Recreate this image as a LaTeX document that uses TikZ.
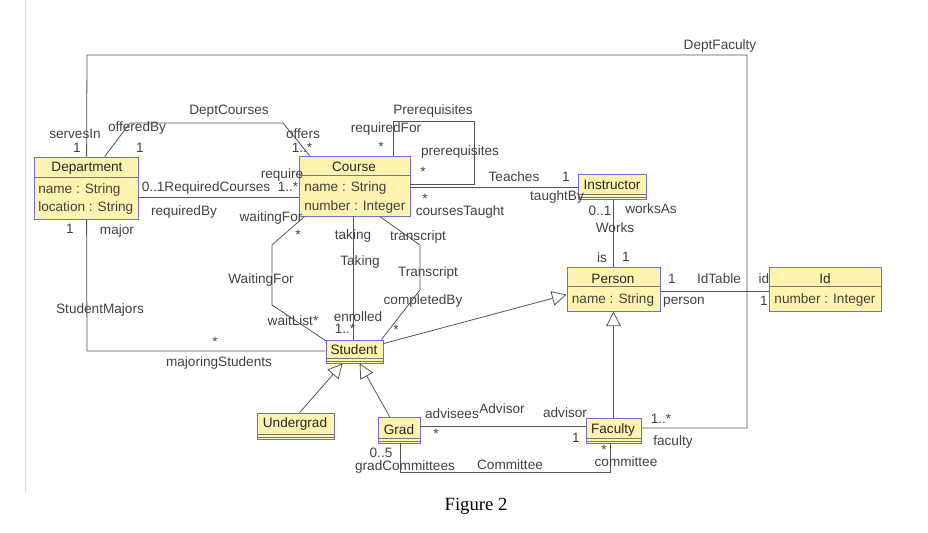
\documentclass[tikz,border=0pt]{standalone}
\usepackage{fontspec}
\setmainfont{Liberation Sans}
\usetikzlibrary{calc,arrows.meta}
\definecolor{boxfill}{RGB}{255,243,176}
\definecolor{boxline}{RGB}{110,110,225}
\definecolor{ln}{RGB}{85,85,85}
\definecolor{tx}{RGB}{65,65,65}
\begin{document}
\begin{tikzpicture}[x=0.75pt,y=-0.75pt,
  cls/.style={draw=boxline,fill=boxfill,inner sep=0pt,line width=0.6pt},
  lbl/.style={text=tx,inner sep=0pt,font=\fontsize{10.2}{11}\selectfont},
  ttl/.style={text=black!85,inner sep=0pt,font=\fontsize{10.2}{11}\selectfont},
  sep/.style={draw=ln!80,line width=0.5pt},
  con/.style={draw=ln,line width=0.6pt},
  gen/.style={con,-{Triangle[open,length=11pt,width=11pt]}}]
\useasboundingbox (0,0) rectangle (928,532);
\draw[black!15] (25,0) -- (25,492);
% classes
\node[cls,minimum width=104*0.75pt,minimum height=62*0.75pt] (dept) at (86,188) {};
\node[cls,minimum width=111*0.75pt,minimum height=60*0.75pt] (course) at (354.5,186) {};
\node[cls,minimum width=68*0.75pt,minimum height=25*0.75pt] (instr) at (612,186.5) {};
\node[cls,minimum width=93*0.75pt,minimum height=44*0.75pt] (person) at (613.5,289) {};
\node[cls,minimum width=112*0.75pt,minimum height=44*0.75pt] (id) at (825,289) {};
\node[cls,minimum width=57*0.75pt,minimum height=23*0.75pt] (student) at (354.5,351.5) {};
\node[cls,minimum width=77*0.75pt,minimum height=26*0.75pt] (ugrad) at (295.5,426) {};
\node[cls,minimum width=42*0.75pt,minimum height=26*0.75pt] (grad) at (399,430) {};
\node[cls,minimum width=55*0.75pt,minimum height=25*0.75pt] (fac) at (613.5,430.5) {};
% compartments
\draw[sep] ($(dept.north west)+(0,21)$) -- ($(dept.north east)+(0,21)$);
\draw[sep] ($(course.north west)+(0,20)$) -- ($(course.north east)+(0,20)$);
\draw[sep] ($(person.north west)+(0,20)$) -- ($(person.north east)+(0,20)$);
\draw[sep] ($(id.north west)+(0,20)$) -- ($(id.north east)+(0,20)$);
\foreach \n in {instr,student,ugrad,grad,fac}{
  \draw[sep] ($(\n.south west)+(0,-5)$) -- ($(\n.south east)+(0,-5)$);
  \draw[sep] ($(\n.south west)+(0,-2.5)$) -- ($(\n.south east)+(0,-2.5)$);}
% class texts
\node[ttl] (deptT) at (87,168) {Department};
\node[lbl,anchor=west] (deptA1) at (38,190) {name : String};
\node[lbl,anchor=west] (deptA2) at (38,208) {location : String};
\node[ttl] (courseT) at (354,167) {Course};
\node[lbl,anchor=west] (courseA1) at (304,188) {name : String};
\node[lbl,anchor=west] (courseA2) at (304,207) {number : Integer};
\node[ttl] (instrT) at (612,185) {Instructor};
\node[ttl] (personT) at (613,279) {Person};
\node[lbl] (personA) at (613,300) {name : String};
\node[ttl] (idT) at (825,279) {Id};
\node[lbl] (idA) at (825,300) {number : Integer};
\node[ttl] (studentT) at (354,350) {Student};
\node[ttl] (ugradT) at (295,424) {Undergrad};
\node[ttl] (gradT) at (399,430) {Grad};
\node[ttl] (facT) at (613,430) {Faculty};
% connectors
\coordinate (df1) at (87,55); \coordinate (df2) at (747,55); \coordinate (df3) at (747,428);
\draw[con] ($(dept.north west)+(53,0)$) -- (df1) -- (df2) -- (df3) -- (df3 -| fac.east);
\coordinate (sm1) at (87,351);
\draw[con] ($(dept.south west)+(53,0)$) -- (sm1) -- (sm1 -| student.west);
\coordinate (dc1) at (130,123); \coordinate (dc2) at (283,123);
\draw[con] ($(dept.north west)+(71,0)$) -- (dc1) -- (dc2) -- ($(course.north west)+(11,0)$);
\coordinate (rc) at (140,197);
\draw[con] (rc -| dept.east) -- (rc -| course.west);
\coordinate (pr1) at (393,121); \coordinate (pr2) at (474,121); \coordinate (pr3) at (474,184);
\draw[con] (pr1 |- course.north) -- (pr1) -- (pr2) -- (pr3) -- (pr3 -| course.east);
\coordinate (te) at (500,187);
\draw[con] (te -| course.east) -- (te -| instr.west);
\coordinate (wk) at (613,230);
\draw[con] (wk |- instr.south) -- (wk |- person.north);
\coordinate (it) at (700,291);
\draw[con] (it -| person.east) -- (it -| id.west);
\coordinate (wf1) at (272,245); \coordinate (wf2) at (272,305);
\draw[con] ($(course.south west)+(6,0)$) -- (wf1) -- (wf2) -- ($(student.north west)+(0,1)$);
\coordinate (tk) at (353,250);
\draw[con] (tk |- course.south) -- (tk |- student.north);
\coordinate (tr1) at (420,245); \coordinate (tr2) at (420,290);
\draw[con] ($(course.south west)+(81,0)$) -- (tr1) -- (tr2) -- ($(student.north east)+(-2,0)$);
\draw[gen] ($(student.north east)+(0,4)$) -- ($(person.north west)+(0,28)$);
\draw[gen] (fac.north) -- (person.south);
\draw[gen] ($(ugrad.north west)+(43,0)$) -- ($(student.south west)+(17,0)$);
\draw[gen] ($(grad.north west)+(12,0)$) -- ($(student.south west)+(34,0)$);
\coordinate (ad) at (500,426.5);
\draw[con] (ad -| grad.east) -- (ad -| fac.west);
\coordinate (cm1) at (400,472); \coordinate (cm2) at (610,472);
\draw[con] (cm1 |- grad.south) -- (cm1) -- (cm2) -- (cm2 |- fac.south);
% labels
\node[lbl] (l1) at (720,46) {DeptFaculty};
\node[lbl] (l2) at (661,419) {1..*};
\node[lbl] (l3) at (673,442) {faculty};
\node[lbl] (l4) at (70,229) {1};
\node[lbl] (l5) at (117,231) {major};
\node[lbl] (l6) at (100,310) {StudentMajors};
\node[lbl] (l7) at (215,342) {*};
\node[lbl] (l8) at (219,363) {majoringStudents};
\node[lbl] (l9) at (75,134) {servesIn};
\node[lbl] (l10) at (77,148) {1};
\node[lbl] (l11) at (229,111) {DeptCourses};
\node[lbl] (l12) at (137,128) {offeredBy};
\node[lbl] (l13) at (140,148) {1};
\node[lbl] (l14) at (303,134) {offers};
\node[lbl] (l15) at (302,148) {1..*};
\node[lbl] (l16) at (220,188) {0..1RequiredCourses\ \ 1..*};
\node[lbl] (l17) at (184,212) {requiredBy};
\node[lbl] (l18) at (282,175) {require};
\node[lbl] (l19) at (433,111) {Prerequisites};
\node[lbl] (l20) at (386,129) {requiredFor};
\node[lbl] (l21) at (381,147) {*};
\node[lbl] (l22) at (460,152) {prerequisites};
\node[lbl] (l23) at (423,172) {*};
\node[lbl] (l24) at (514,177) {Teaches};
\node[lbl] (l25) at (566,177) {1};
\node[lbl] (l26) at (557,197) {taughtBy};
\node[lbl] (l27) at (425,199) {*};
\node[lbl] (l28) at (460,212) {coursesTaught};
\node[lbl] (l29) at (600,211) {0..1};
\node[lbl] (l30) at (651,209) {worksAs};
\node[lbl] (l31) at (615,228) {Works};
\node[lbl] (l32) at (602,258) {is};
\node[lbl] (l33) at (626,257) {1};
\node[lbl] (l34) at (672,279) {1};
\node[lbl] (l35) at (719,279) {IdTable};
\node[lbl] (l36) at (764,279) {id};
\node[lbl] (l37) at (684,302) {person};
\node[lbl] (l38) at (764,301) {1};
\node[lbl] (l39) at (271,218) {waitingFor};
\node[lbl] (l40) at (298,235) {*};
\node[lbl] (l41) at (261,280) {WaitingFor};
\node[lbl] (l42) at (293,321) {waitList*};
\node[lbl] (l43) at (353,236) {taking};
\node[lbl] (l44) at (360,262) {Taking};
\node[lbl] (l45) at (358,317) {enrolled};
\node[lbl] (l46) at (345,329) {1..*};
\node[lbl] (l47) at (418,237) {transcript};
\node[lbl] (l48) at (428,273) {Transcript};
\node[lbl] (l49) at (423,301) {completedBy};
\node[lbl] (l50) at (396,330) {*};
\node[lbl] (l51) at (452,414) {advisees};
\node[lbl] (l52) at (502,409) {Advisor};
\node[lbl] (l53) at (565,413) {advisor};
\node[lbl] (l54) at (436,434) {*};
\node[lbl] (l55) at (576,438) {1};
\node[lbl] (l56) at (381,453) {0..5};
\node[lbl] (l57) at (405,467) {gradCommittees};
\node[lbl] (l58) at (510,465) {Committee};
\node[lbl] (l59) at (604,450) {*};
\node[lbl] (l60) at (626,462) {committee};
\node[inner sep=0pt,font=\fontsize{14}{16}\selectfont\fontspec{Liberation Serif}] (cap) at (476,506) {Figure 2};
\end{tikzpicture}
\end{document}
